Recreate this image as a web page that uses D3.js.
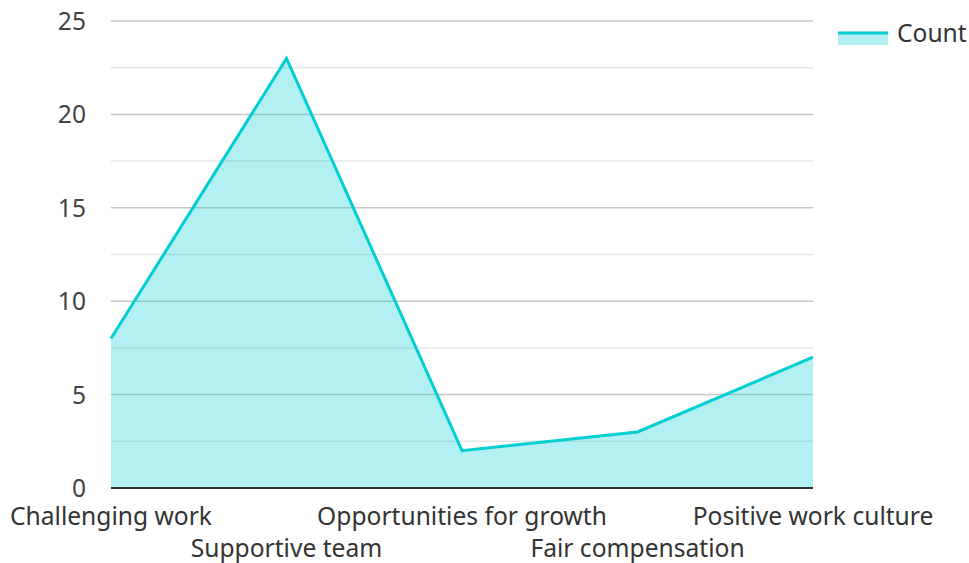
<!DOCTYPE html>
<html><head><meta charset="utf-8">
<script src="https://cdn.jsdelivr.net/npm/d3@7"></script>
<style>body{margin:0;background:#fff}svg{display:block;font-family:"Noto Sans",sans-serif}</style>
</head><body><svg id="c" width="969" height="563"></svg>
<script>
const categories = ["Challenging work","Supportive team","Opportunities for growth","Fair compensation","Positive work culture"];
const counts = [8,23,2,3,7];
const yTicks = [0,5,10,15,20,25];
const yMinorTicks = [2.5,7.5,12.5,17.5,22.5];
const seriesName = "Count";

const svg = d3.select("#c");
const L = 111, R = 813, T = 21, B = 488;
const x = d3.scalePoint().domain(categories).range([L,R]);
const y = d3.scaleLinear().domain([0,25]).range([B,T]);
const color = "#00CED1";
const fs = 24.6;

const g = svg.append("g");
g.selectAll("line.minor").data(yMinorTicks).join("line")
 .attr("x1",L).attr("x2",R).attr("y1",d=>y(d)).attr("y2",d=>y(d))
 .attr("stroke","#e6e6e6").attr("stroke-width",1.5);
g.selectAll("line.major").data(yTicks.filter(d=>d>0)).join("line")
 .attr("x1",L).attr("x2",R).attr("y1",d=>y(d)).attr("y2",d=>y(d))
 .attr("stroke","#c8c8c8").attr("stroke-width",1.5);

const data = categories.map((c,i)=>({c,v:counts[i]}));
g.append("path").datum(data)
 .attr("d", d3.area().x(d=>x(d.c)).y0(y(0)).y1(d=>y(d.v)))
 .attr("fill",color).attr("fill-opacity",0.3);
g.append("path").datum(data)
 .attr("d", d3.line().x(d=>x(d.c)).y(d=>y(d.v)))
 .attr("fill","none").attr("stroke",color).attr("stroke-width",3).attr("stroke-linejoin","miter");

g.append("line").attr("x1",L).attr("x2",R).attr("y1",y(0)).attr("y2",y(0))
 .attr("stroke","#333").attr("stroke-width",2);

g.selectAll("text.yt").data(yTicks).join("text")
 .attr("x",86).attr("y",d=>y(d)+9).attr("text-anchor","end")
 .attr("font-size",fs).attr("fill","#444").text(d=>d);

g.selectAll("text.xt").data(categories).join("text")
 .attr("x",d=>x(d)).attr("y",(d,i)=> i%2===0 ? 525 : 557).attr("text-anchor","middle")
 .attr("font-size",fs).attr("fill","#333").text(d=>d);

const lg = svg.append("g");
lg.append("rect").attr("x",838).attr("y",33).attr("width",50).attr("height",12).attr("fill",color).attr("fill-opacity",0.3);
lg.append("line").attr("x1",838).attr("x2",888).attr("y1",33).attr("y2",33).attr("stroke",color).attr("stroke-width",3);
lg.append("text").attr("x",897).attr("y",42).attr("font-size",fs).attr("fill","#333").text(seriesName);
</script></body></html>
